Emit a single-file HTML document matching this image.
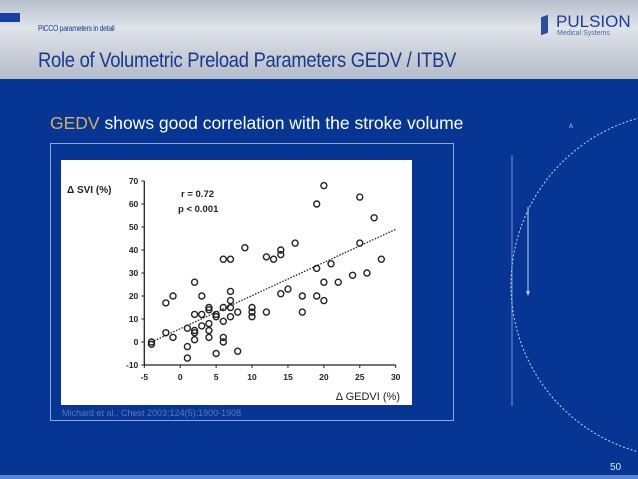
<!DOCTYPE html>
<html><head><meta charset="utf-8"><style>
body{margin:0;width:638px;height:479px;overflow:hidden;background:#063594;font-family:"Liberation Sans",sans-serif;position:relative}
.hdr{position:absolute;left:0;top:0;width:638px;height:79px;background:linear-gradient(#b7bfcc,#dfe3ea 35%,#cfd4dc 60%,#b4bcc9)}
</style></head><body>
<div class="hdr"></div>
<div style="position:absolute;left:0;top:13px;width:20px;height:9px;background:#1741a0"></div>
<div style="position:absolute;left:38px;top:23px;font-size:8.5px;color:#1e3f8c;letter-spacing:-0.4px;transform:scaleX(0.82);transform-origin:0 0;white-space:nowrap">PiCCO parameters in detail</div>
<div style="position:absolute;left:38px;top:49px;font-size:21px;color:#173a8e;letter-spacing:-0.3px;transform:scaleX(0.875);transform-origin:0 0;white-space:nowrap">Role of Volumetric Preload Parameters GEDV / ITBV</div>
<div style="position:absolute;left:556px;top:12px;font-size:17px;color:#1a3f94">PULSION</div>
<div style="position:absolute;left:557px;top:30px;font-size:7px;color:#4a6aa8">Medical Systems</div>
<div style="position:absolute;left:541px;top:16px;width:7px;height:18px;background:#2a4fa0;transform:skewY(-20deg)"></div>
<div style="position:absolute;left:50px;top:113px;font-size:17.5px;color:#fff;white-space:nowrap"><span style="color:#d4b060">GEDV</span> shows good correlation with the stroke volume</div>
<div style="position:absolute;left:50px;top:143px;width:404px;height:278px;border:1px solid #8fa5d6;box-sizing:border-box"></div>
<div style="position:absolute;left:61px;top:160px;width:351px;height:245px;background:#fff"></div>
<div style="position:absolute;left:62px;top:408px;font-size:9px;color:#5f78b8">Michard et al., Chest 2003;124(5):1900-1908</div>
<svg width="638" height="479" style="position:absolute;left:0;top:0" id="svg">
<line x1="512" y1="155" x2="512" y2="406" stroke="#7d93cc" stroke-width="1"/>
<circle cx="684" cy="285" r="173" fill="none" stroke="#c9d3ef" stroke-width="1" stroke-dasharray="2,2"/>
<line x1="528" y1="207" x2="528" y2="293" stroke="#c9d3ef"/>
<polygon points="526,291 530,291 528,296" fill="#c9d3ef"/>
<text x="569" y="128" font-size="6" fill="#c9d3ef">A</text>
<text x="610" y="470" font-size="10" fill="#dfe6f7">50</text>
<rect x="0" y="475" width="638" height="4" fill="#5b86d6"/>
<g id="chart" font-family="Liberation Sans, sans-serif" font-weight="bold" font-size="8.5" fill="#222"></g>
</svg>
<script>
const xTicks=[-5,0,5,10,15,20,25,30];
const yTicks=[-10,0,10,20,30,40,50,60,70];
const gedvi=[-4,-4,-2,-2,-1,-1,1,1,1,2,2,2,2,2,3,3,3,4,4,4,4,4,5,5,5,6,6,6,6,6,7,7,7,7,7,8,8,9,10,10,10,12,12,13,14,14,14,15,16,17,17,19,19,19,20,20,20,21,22,24,25,25,26,27,28];
const svi=[0,-1,4,17,2,20,-7,-2,6,1,5,4,12,26,12,7,20,2,5,8,14,15,-5,11,12,0,2,9,15,36,36,11,15,18,22,-4,13,41,11,13,15,13,37,36,21,38,40,23,43,13,20,60,32,20,68,26,18,34,26,29,63,43,30,54,36];
const fitX=[-4,30];
const fitY=[0,49];
const X=v=>144.3+(v+5)*251.4/35;
const Y=v=>342-v*2.3;
const g=document.getElementById('chart');
const NS='http://www.w3.org/2000/svg';
function mk(t,a){const e=document.createElementNS(NS,t);for(const k in a)e.setAttribute(k,a[k]);g.appendChild(e);return e;}
let e;
e=mk('line',{x1:X(-5),y1:Y(-10),x2:X(30),y2:Y(-10),stroke:'#222','stroke-width':1.3});


e=mk('line',{x1:X(-5),y1:Y(-10),x2:X(-5),y2:Y(70),stroke:'#222','stroke-width':1.3});


xTicks.forEach(t=>{
 e=mk('line',{x1:X(t),y1:Y(-10),x2:X(t),y2:Y(-10)+3,stroke:'#222'});
 
 
 e=mk('text',{x:X(t),y:Y(-10)+15,'text-anchor':'middle'});e.textContent=t;
 
 
});
yTicks.forEach(t=>{
 e=mk('line',{x1:X(-5)-3,y1:Y(t),x2:X(-5),y2:Y(t),stroke:'#222'});
 
 
 e=mk('text',{x:X(-5)-6,y:Y(t)+3,'text-anchor':'end'});e.textContent=t;
 
 
});
e=mk('line',{x1:X(fitX[0]),y1:Y(fitY[0]),x2:X(fitX[1]),y2:Y(fitY[1]),stroke:'#222','stroke-width':1.3,'stroke-dasharray':'1.5,1.5'});


gedvi.forEach((v,i)=>{
 e=mk('circle',{cx:X(v),cy:Y(svi[i]),r:3,fill:'none',stroke:'#222','stroke-width':1.4});
 
 
});
e=mk('text',{x:67,y:193,'font-size':10});e.textContent='\u0394 SVI (%)';


e=mk('text',{x:181,y:197,'font-size':9.5});e.textContent='r = 0.72';


e=mk('text',{x:178,y:212,'font-size':9.5});e.textContent='p < 0.001';


e=mk('text',{x:400,y:400,'font-size':11,'font-weight':'normal','text-anchor':'end'});e.textContent='\u0394 GEDVI (%)';


</script>
</body></html>
